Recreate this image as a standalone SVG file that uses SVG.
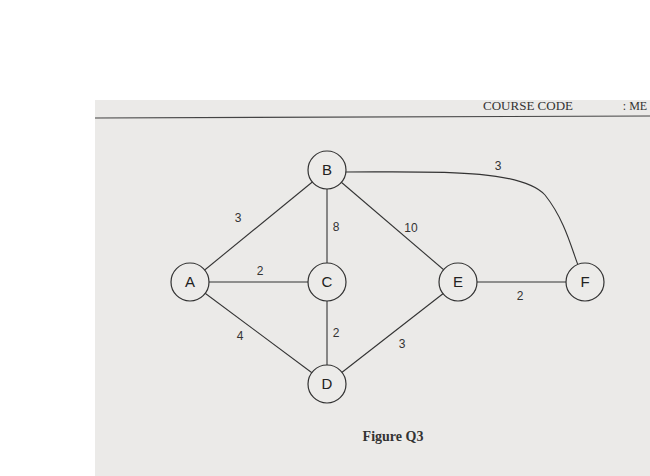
<svg xmlns="http://www.w3.org/2000/svg" width="650" height="476" viewBox="0 0 650 476">
<style>
.n circle{fill:#ecebe9;stroke:#333;stroke-width:1.2}
.n text{font-family:"Liberation Sans",sans-serif;font-size:15px;fill:#222;text-anchor:middle}
.l{font-family:"Liberation Sans",sans-serif;font-size:12px;fill:#333;text-anchor:middle}
#edges path,#edges line{stroke:#333;stroke-width:1.1;fill:none}
</style>
<rect width="650" height="476" fill="#fff"/>
<rect x="95" y="100" width="555" height="376" fill="#ebeae8"/>
<line x1="95" y1="118" x2="650" y2="116" stroke="#444" stroke-width="1.2"/>
<text x="528" y="110" font-family="Liberation Serif,serif" font-size="13" fill="#333" text-anchor="middle">COURSE CODE</text>
<text x="635" y="110" font-family="Liberation Serif,serif" font-size="12" fill="#333" text-anchor="middle">: ME</text>
<g id="edges">
<line x1="190" y1="282" x2="327" y2="170"/>
<line x1="190" y1="282" x2="327" y2="282"/>
<line x1="190" y1="282" x2="327" y2="384"/>
<line x1="327" y1="170" x2="327" y2="384"/>
<line x1="327" y1="170" x2="458" y2="282"/>
<line x1="327" y1="384" x2="458" y2="282"/>
<line x1="458" y1="282" x2="585" y2="282"/>
<path d="M345,172 C430,172 520,168 545,195 C565,220 572,250 578,265"/>
</g>
<g class="l">
<text class="l" x="238" y="222">3</text>
<text class="l" x="260" y="275">2</text>
<text class="l" x="240" y="340">4</text>
<text class="l" x="336" y="231">8</text>
<text class="l" x="411" y="232">10</text>
<text class="l" x="498" y="170">3</text>
<text class="l" x="336" y="337">2</text>
<text class="l" x="402" y="348">3</text>
<text class="l" x="520" y="300">2</text>
</g>
<g id="B" class="n"><circle cx="327" cy="170" r="19"/><text x="327" y="175">B</text></g>
<g id="A" class="n"><circle cx="190" cy="282" r="19"/><text x="190" y="287">A</text></g>
<g id="C" class="n"><circle cx="327" cy="282" r="19"/><text x="327" y="287">C</text></g>
<g id="E" class="n"><circle cx="458" cy="282" r="19"/><text x="458" y="287">E</text></g>
<g id="F" class="n"><circle cx="585" cy="282" r="19"/><text x="585" y="287">F</text></g>
<g id="D" class="n"><circle cx="327" cy="384" r="19"/><text x="327" y="389">D</text></g>
<text x="393" y="441" font-family="Liberation Serif,serif" font-size="14" font-weight="bold" fill="#333" text-anchor="middle">Figure Q3</text>
</svg>
